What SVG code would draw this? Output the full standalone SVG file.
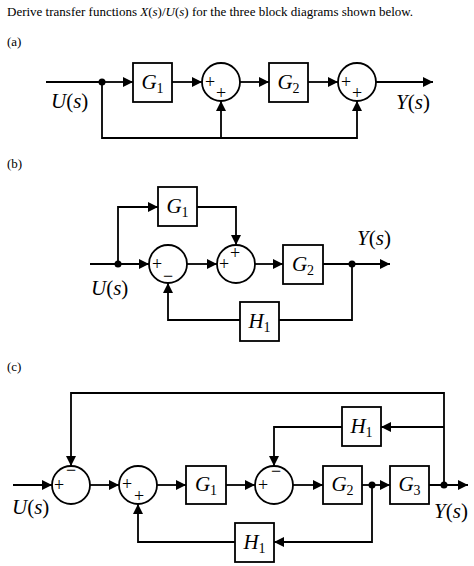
<svg xmlns="http://www.w3.org/2000/svg" width="474" height="566" viewBox="0 0 474 566" font-family="'Liberation Serif', 'Times New Roman', 'DejaVu Serif', serif">
<defs>
<marker id="ah" viewBox="0 0 10 10" refX="10" refY="5" markerWidth="11" markerHeight="10" markerUnits="userSpaceOnUse" orient="auto">
<path d="M0,0 L10,5 L0,10 Z" fill="#000"/>
</marker>
<style>
.w{fill:none;stroke:#000;stroke-width:1.8}
.a{fill:none;stroke:#000;stroke-width:1.8;marker-end:url(#ah)}
.b{fill:#fff;stroke:#000;stroke-width:1.8}
.t{fill:#000;font-size:13px}
.g{font-style:italic;font-size:21px;fill:#000;text-anchor:middle}
.sub{font-style:normal;font-size:14px}
.s{font-size:18px;fill:#000;text-anchor:middle}
.l{font-style:italic;font-size:21px;fill:#000}
.p{font-style:normal}
.i{font-style:italic}
</style>
</defs>
<rect width="474" height="566" fill="#fff"/>
<text class="t" x="7" y="16">Derive transfer functions <tspan class="i">X</tspan>(<tspan class="i">s</tspan>)/<tspan class="i">U</tspan>(<tspan class="i">s</tspan>) for the three block diagrams shown below.</text>
<text class="t" x="7" y="46">(a)</text>
<text class="t" x="7" y="168">(b)</text>
<text class="t" x="7" y="371">(c)</text>

<g id="connectors">
<path class="w" d="M46 82 H102"/>
<path class="a" d="M102 82 H133"/>
<path class="a" d="M172 82 H202"/>
<path class="a" d="M240 82 H269"/>
<path class="a" d="M308 82 H338"/>
<path class="a" d="M376 82 H433"/>
<path class="a" d="M102 82 V138 H357 V101"/>
<path class="a" d="M221 138 V101"/>
<circle cx="102" cy="82" r="3.5" fill="#000"/>
<path class="a" d="M90 264 H149"/>
<path class="a" d="M118 264 V207 H158"/>
<path class="a" d="M197 207 H236 V245"/>
<path class="a" d="M187 264 H217"/>
<path class="a" d="M255 264 H283"/>
<path class="a" d="M323 264 H390"/>
<path class="w" d="M352 264 V320 H279"/>
<path class="a" d="M240 320 H168 V283"/>
<circle cx="118" cy="264" r="3.5" fill="#000"/>
<circle cx="352" cy="264" r="3.5" fill="#000"/>
<path class="a" d="M13 485 H52"/>
<path class="a" d="M444 485 V393 H71 V466"/>
<path class="a" d="M90 485 H119"/>
<path class="a" d="M157 485 H186"/>
<path class="a" d="M226 485 H255"/>
<path class="a" d="M293 485 H323"/>
<path class="a" d="M362 485 H390"/>
<path class="a" d="M429 485 H468"/>
<path class="a" d="M444 427 H381"/>
<path class="a" d="M342 427 H274 V466"/>
<path class="a" d="M372 485 V542 H274"/>
<path class="a" d="M235 542 H138 V504"/>
<circle cx="372" cy="485" r="3.5" fill="#000"/>
<circle cx="444" cy="485" r="3.5" fill="#000"/>
</g>

<g id="a-G1"><rect class="b" x="133" y="63" width="39" height="39"/><text class="g" x="152.5" y="89">G<tspan class="sub" dy="4">1</tspan></text></g>
<g id="a-S1"><circle class="b" cx="221" cy="82" r="19"/><text class="s" x="210" y="88">+</text><text class="s" x="221" y="99">+</text></g>
<g id="a-G2"><rect class="b" x="269" y="63" width="39" height="39"/><text class="g" x="288.5" y="89">G<tspan class="sub" dy="4">2</tspan></text></g>
<g id="a-S2"><circle class="b" cx="357" cy="82" r="19"/><text class="s" x="346" y="88">+</text><text class="s" x="357" y="99">+</text></g>
<text class="l" x="51" y="108">U<tspan class="p">(</tspan>s<tspan class="p">)</tspan></text>
<text class="l" x="396" y="109">Y<tspan class="p">(</tspan>s<tspan class="p">)</tspan></text>

<g id="b-G1"><rect class="b" x="158" y="187" width="39" height="39"/><text class="g" x="177.5" y="213">G<tspan class="sub" dy="4">1</tspan></text></g>
<g id="b-S1"><circle class="b" cx="168" cy="264" r="19"/><text class="s" x="157" y="270">+</text><text class="s" x="168" y="282">−</text></g>
<g id="b-S2"><circle class="b" cx="236" cy="264" r="19"/><text class="s" x="224" y="270">+</text><text class="s" x="235" y="259">+</text></g>
<g id="b-G2"><rect class="b" x="283" y="245" width="40" height="39"/><text class="g" x="303" y="271">G<tspan class="sub" dy="4">2</tspan></text></g>
<g id="b-H1"><rect class="b" x="240" y="302" width="39" height="39"/><text class="g" x="259.5" y="328">H<tspan class="sub" dy="4">1</tspan></text></g>
<text class="l" x="91" y="295">U<tspan class="p">(</tspan>s<tspan class="p">)</tspan></text>
<text class="l" x="357" y="245">Y<tspan class="p">(</tspan>s<tspan class="p">)</tspan></text>

<g id="c-S1"><circle class="b" cx="71" cy="485" r="19"/><text class="s" x="59" y="491">+</text><text class="s" x="71" y="476">−</text></g>
<g id="c-S2"><circle class="b" cx="138" cy="485" r="19"/><text class="s" x="127" y="490">+</text><text class="s" x="139" y="502">+</text></g>
<g id="c-G1"><rect class="b" x="186" y="466" width="40" height="38"/><text class="g" x="206" y="491">G<tspan class="sub" dy="4">1</tspan></text></g>
<g id="c-S3"><circle class="b" cx="274" cy="485" r="19"/><text class="s" x="263" y="491">+</text><text class="s" x="276" y="477">−</text></g>
<g id="c-G2"><rect class="b" x="323" y="466" width="39" height="38"/><text class="g" x="342.5" y="491">G<tspan class="sub" dy="4">2</tspan></text></g>
<g id="c-G3"><rect class="b" x="390" y="466" width="39" height="38"/><text class="g" x="409.5" y="491">G<tspan class="sub" dy="4">3</tspan></text></g>
<g id="c-H1top"><rect class="b" x="342" y="407" width="39" height="39"/><text class="g" x="361.5" y="433">H<tspan class="sub" dy="4">1</tspan></text></g>
<g id="c-H1bot"><rect class="b" x="235" y="523" width="39" height="39"/><text class="g" x="254.5" y="549">H<tspan class="sub" dy="4">1</tspan></text></g>
<text class="l" x="12" y="514">U<tspan class="p">(</tspan>s<tspan class="p">)</tspan></text>
<text class="l" x="434" y="518">Y<tspan class="p">(</tspan>s<tspan class="p">)</tspan></text>
</svg>
